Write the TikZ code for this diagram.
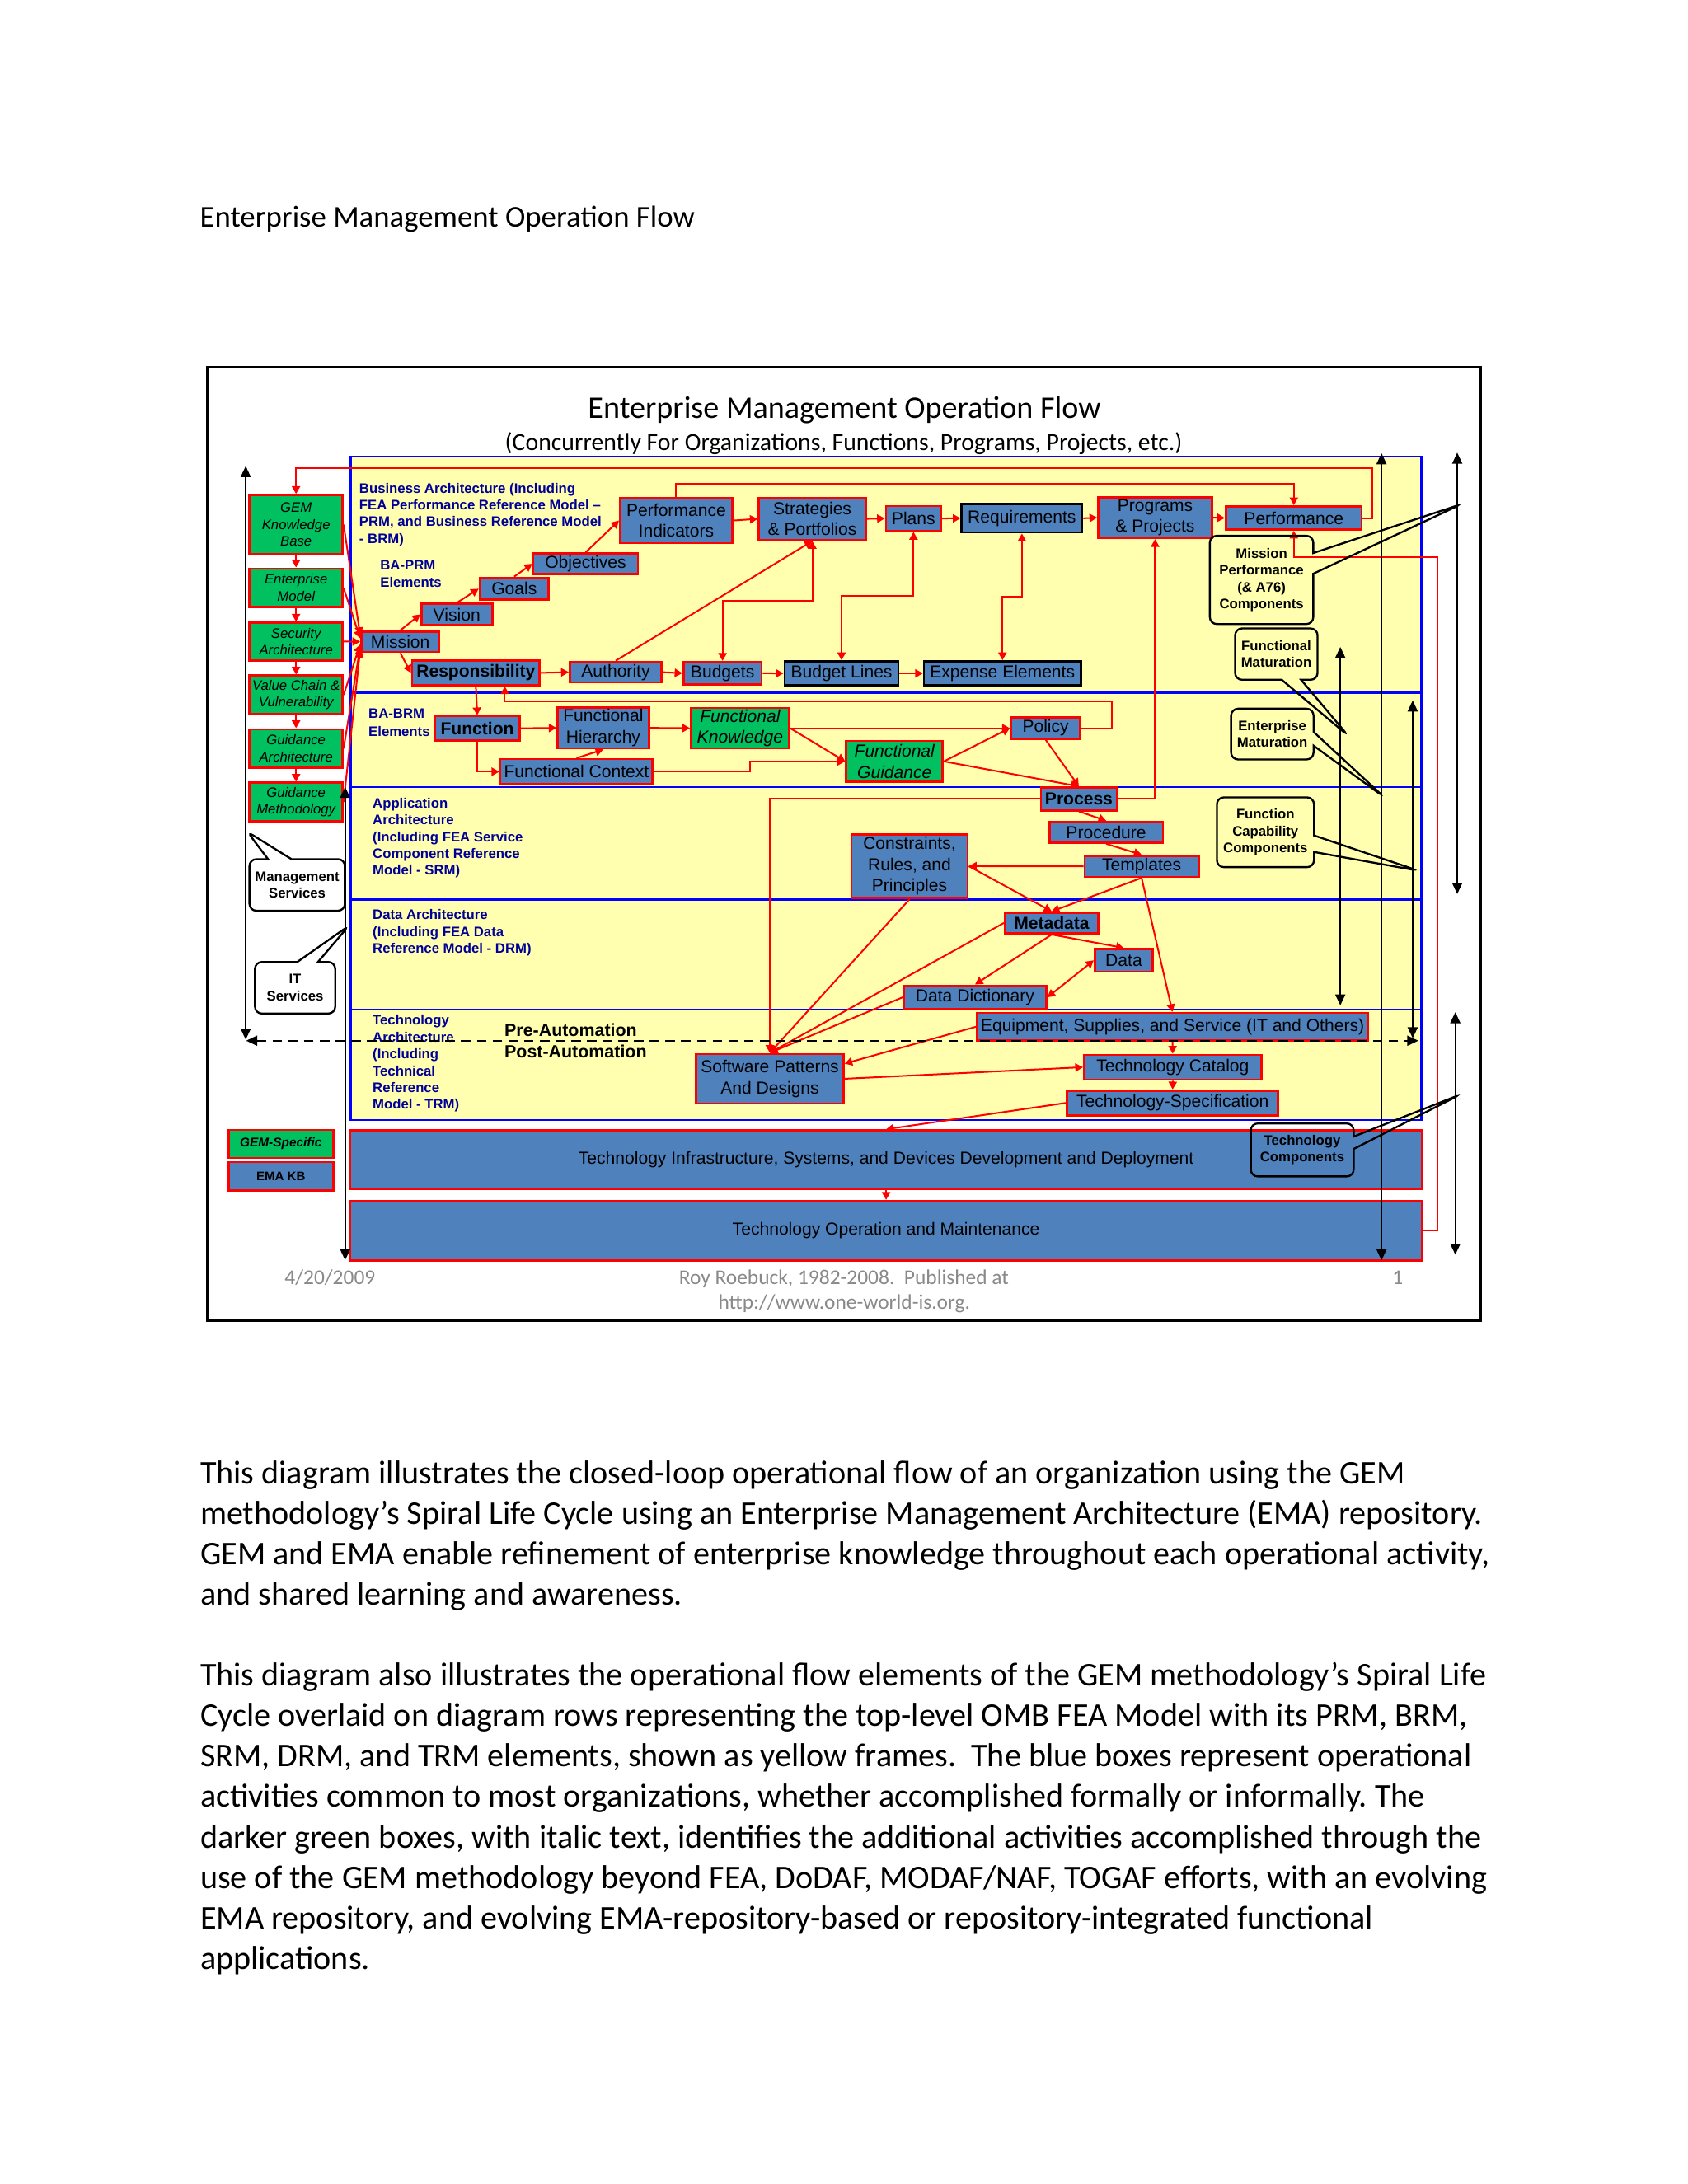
\documentclass[tikz,border=0pt]{standalone}
\usepackage{fontspec}
\setmainfont{Carlito}
\newfontfamily\arialfont{Liberation Sans}
\usetikzlibrary{arrows.meta, shapes.callouts}
\frenchspacing

\definecolor{emablue}{RGB}{79,129,189}
\definecolor{gemgreen}{RGB}{0,192,96}
\definecolor{bandyellow}{RGB}{255,255,175}
\definecolor{labelnavy}{RGB}{0,0,153}
\definecolor{footgray}{RGB}{137,137,137}

\tikzset{
  band/.style={draw=blue, fill=bandyellow, line width=0.7pt},
  ema/.style={draw=red, fill=emablue, line width=0.8pt, inner sep=0pt, align=center,
    font=\arialfont\fontsize{6.3}{7.6}\selectfont},
  emablack/.style={ema, draw=black},
  emabold/.style={ema, font=\arialfont\bfseries\fontsize{6.3}{7.6}\selectfont},
  gem/.style={draw=red, fill=gemgreen, line width=0.8pt, inner sep=0pt, align=center,
    font=\arialfont\itshape\fontsize{5}{6.2}\selectfont},
  gemknow/.style={gem, font=\arialfont\itshape\fontsize{6.3}{7.6}\selectfont},
  callbox/.style={rectangle callout, draw=black, line width=0.7pt, rounded corners=2.5pt,
    inner sep=0pt, align=center, font=\arialfont\bfseries\fontsize{5}{6.15}\selectfont},
  rowlabel/.style={anchor=north west, inner sep=0pt, align=left, text=labelnavy,
    font=\arialfont\bfseries\fontsize{5}{6.1}\selectfont},
  redflow/.style={draw=red, line width=0.6pt, >={Triangle[length=2.8pt,width=3pt]}, ->},
  redboth/.style={redflow, <->},
  spanarrow/.style={draw=black, line width=0.6pt, >={Triangle[length=4pt,width=3.6pt]}, <->},
  foot/.style={anchor=base, inner sep=0pt, text=footgray, font=\fontsize{7.6}{9.1}\selectfont}
}

\begin{document}
\begin{tikzpicture}[x=0.5pt, y=-0.5pt]
\useasboundingbox (0,0) rectangle (1224,1584);

% page heading
\node[anchor=base west, inner sep=0pt, font=\fontsize{11}{13.4}\selectfont] (pagehead) at (144.6,164.4) {Enterprise Management Operation Flow};

% slide frame and titles
\draw[line width=0.9pt] (150.5,266) rectangle (1073.7,957.6);
\node[anchor=base, inner sep=0pt, font=\fontsize{11.4}{13.9}\selectfont] (title) at (612.4,303.2) {Enterprise Management Operation Flow};
\node[anchor=base, inner sep=0pt, font=\fontsize{8.9}{10.9}\selectfont] (subtitle) at (611.8,326.5) {(Concurrently For Organizations, Functions, Programs, Projects, etc.)};

% FEA rows
\draw[band] (254.4,331.3) rectangle (1030.7,502.4);
\draw[band] (254.4,502.4) rectangle (1030.7,571);
\draw[band] (254.4,571) rectangle (1030.7,652.4);
\draw[band] (254.4,652.4) rectangle (1030.7,732.2);
\draw[band] (254.4,732.2) rectangle (1030.7,812.4);

\node[rowlabel] (balabel) at (260.2,349.9) {Business Architecture (Including\\FEA Performance Reference Model –\\PRM, and Business Reference Model\\- BRM)};
\node[rowlabel] (prmlabel) at (275.4,406.3) {BA-PRM\\Elements};
\node[rowlabel, font=\arialfont\bfseries\fontsize{5}{6.4}\selectfont] (brmlabel) at (266.9,513.8) {BA-BRM\\Elements};
\node[rowlabel] (srmlabel) at (269.9,578.3) {Application\\Architecture\\(Including FEA Service\\Component Reference\\Model - SRM)};
\node[rowlabel] (drmlabel) at (269.9,659.3) {Data Architecture\\(Including FEA Data\\Reference Model - DRM)};
\node[rowlabel] (trmlabel) at (269.9,735.8) {Technology\\Architecture\\(Including\\Technical\\Reference\\Model - TRM)};
\node[anchor=west, inner sep=0pt, align=left, font=\arialfont\bfseries\fontsize{6.4}{7.75}\selectfont] (automation) at (365.5,754.85) {Pre-Automation\\Post-Automation};

% GEM column
\node[gem, minimum width=33.7pt, minimum height=21.4pt] (gemkb) at (214.7,380.4) {GEM\\Knowledge\\Base};
\node[gem, minimum width=33.7pt, minimum height=14pt] (entmodel) at (214.7,426.4) {Enterprise\\Model};
\node[gem, minimum width=33.7pt, minimum height=13.7pt] (secarch) at (214.7,465.3) {Security\\Architecture};
\node[gem, minimum width=33.7pt, minimum height=14pt] (valchain) at (214.7,504) {Value Chain \&\\Vulnerability};
\node[gem, minimum width=33.7pt, minimum height=14pt] (guidarch) at (214.7,542.9) {Guidance\\Architecture};
\node[gem, minimum width=33.7pt, minimum height=14pt] (guidmeth) at (214.7,581.7) {Guidance\\Methodology};

% legend
\node[gem, font=\arialfont\bfseries\itshape\fontsize{4.6}{5.5}\selectfont, minimum width=37.9pt, minimum height=10.2pt] (gemspec) at (203.7,829.6) {GEM-Specific};
\node[ema, font=\arialfont\bfseries\fontsize{4.5}{5.5}\selectfont, minimum width=37.9pt, minimum height=10.4pt] (emakb) at (203.7,853.2) {EMA KB};

% BA-PRM
\node[ema, minimum width=28.3pt, minimum height=7.4pt] (mission) at (290.3,465.4) {Mission};
\node[ema, minimum width=25.7pt, minimum height=7.6pt] (vision) at (331.3,445.6) {Vision};
\node[ema, minimum width=25pt, minimum height=8pt] (goals) at (372.9,427) {Goals};
\node[ema, minimum width=37.9pt, minimum height=7.5pt] (objectives) at (424.7,408.9) {Objectives};
\node[ema, minimum width=40.7pt, minimum height=16.5pt] (perfind) at (490.4,377.5) {Performance\\Indicators};
\node[ema, minimum width=38.8pt, minimum height=15.3pt] (strat) at (589.1,376.3) {Strategies\\\& Portfolios};
\node[ema, minimum width=20pt, minimum height=9pt] (plans) at (662.5,376) {Plans};
\node[emablack, minimum width=43.7pt, minimum height=10.3pt] (reqs) at (741.1,375.9) {Requirements};
\node[ema, minimum width=41.2pt, minimum height=14.8pt] (progs) at (837.7,375.4) {Programs\\\& Projects};
\node[ema, minimum width=49.2pt, minimum height=8.5pt] (perf) at (938.3,375.7) {Performance};
\node[emabold, minimum width=46.3pt, minimum height=9pt] (resp) at (345.1,488) {Responsibility};
\node[ema, minimum width=33.2pt, minimum height=7.5pt] (authority) at (446.5,487.5) {Authority};
\node[ema, minimum width=28.3pt, minimum height=8.2pt] (budgets) at (524,488.3) {Budgets};
\node[emablack, minimum width=41.3pt, minimum height=8.8pt] (budlines) at (610.3,488.4) {Budget Lines};
\node[emablack, minimum width=56.9pt, minimum height=8.8pt] (expense) at (727,488.4) {Expense Elements};

% BA-BRM
\node[emabold, minimum width=30.8pt, minimum height=8.7pt] (function) at (346.1,528.2) {Function};
\node[ema, minimum width=33.1pt, minimum height=14.9pt] (funchier) at (437.5,527.9) {Functional\\Hierarchy};
\node[gemknow, minimum width=35.5pt, minimum height=14.7pt] (funcknow) at (536.7,528.1) {Functional\\Knowledge};
\node[ema, minimum width=25.2pt, minimum height=7.6pt] (policy) at (758.3,528.1) {Policy};
\node[gemknow, minimum width=35pt, minimum height=14.9pt] (funcguid) at (648.7,552.2) {Functional\\Guidance};
\node[ema, minimum width=55.2pt, minimum height=9.1pt] (funccontext) at (418.1,559.7) {Functional Context};

% application and data
\node[emabold, minimum width=27.5pt, minimum height=8.3pt] (process) at (782.4,579.4) {Process};
\node[ema, minimum width=41.1pt, minimum height=7.6pt] (procedure) at (802.2,603.6) {Procedure};
\node[ema, minimum width=41.3pt, minimum height=7.6pt] (templates) at (827.9,628.3) {Templates};
\node[ema, minimum width=42.2pt, minimum height=23.2pt] (constraints) at (659.6,628.2) {Constraints,\\Rules, and\\Principles};
\node[emabold, minimum width=33.9pt, minimum height=7.6pt] (metadata) at (762.7,669.4) {Metadata};
\node[ema, minimum width=21pt, minimum height=8.2pt] (data) at (815,696.5) {Data};
\node[ema, minimum width=51.7pt, minimum height=8.5pt] (datadict) at (707.1,723.3) {Data Dictionary};

% technology
\node[ema, minimum width=141.8pt, minimum height=10pt] (equip) at (850.3,744.7) {Equipment, Supplies, and Service (IT and Others)};
\node[ema, minimum width=53.4pt, minimum height=18pt] (softpat) at (558.3,782.4) {Software Patterns\\And Designs};
\node[ema, minimum width=64.3pt, minimum height=9pt] (techcat) at (850.5,774) {Technology Catalog};
\node[ema, minimum width=76.5pt, minimum height=9pt] (techspec) at (850.4,799.9) {Technology-Specification};
\node[ema, minimum width=388.7pt, minimum height=21.2pt] (infra) at (642.6,841) {Technology Infrastructure, Systems, and Devices Development and Deployment};
\node[ema, minimum width=388.7pt, minimum height=21.6pt] (techop) at (642.6,892.6) {Technology Operation and Maintenance};

% GEM column flow
\draw[redflow] (gemkb.south) -- (entmodel.north);
\draw[redflow] (entmodel.south) -- (secarch.north);
\draw[redflow] (secarch.south) -- (valchain.north);
\draw[redflow] (valchain.south) -- (guidarch.north);
\draw[redflow] (guidarch.south) -- (guidmeth.north);
\draw[redflow] (gemkb.east) -- ([yshift=2.4pt]mission.west);
\draw[redflow] (entmodel.east) -- ([yshift=1.2pt]mission.west);
\draw[redflow] (secarch.east) -- (mission.west);
\draw[redflow] (valchain.east) -- ([yshift=-1pt]mission.west);
\draw[redflow] (guidarch.east) -- ([yshift=-2pt]mission.west);
\draw[redflow] (guidmeth.east) -- ([yshift=-3pt]mission.west);

% BA-PRM flow
\draw[redflow] (mission.north) -- (vision.west);
\draw[redflow] (vision.north) -- (goals.west);
\draw[redflow] (goals.north) -- (objectives.west);
\draw[redflow] (objectives.north) -- (perfind.west);
\draw[redflow] (perfind.east) -- (strat.west);
\draw[redflow] (strat.east) -- (plans.west);
\draw[redflow] (plans.east) -- (reqs.west);
\draw[redflow] (reqs.east) -- (progs.west);
\draw[redflow] (progs.east) -- (perf.west);
\draw[redflow] (perf.east) -- (995.1,375.7) -- (995.1,339.7) -| (gemkb.north);
\draw[redflow] (perfind.north) |- (938.3,351) -- (perf.north);
\draw[redflow] (mission.south) -- (resp.west);
\draw[redflow] (resp.east) -- (authority.west);
\draw[redflow] (authority.east) -- (budgets.west);
\draw[redflow] (budgets.east) -- (budlines.west);
\draw[redflow] (budlines.east) -- (expense.west);
\draw[redflow] (authority.north) -- (strat.south);
\draw[redboth] (strat.south) -- (589.1,435.9) -| (budgets.north);
\draw[redboth] (plans.south) -- (662.5,431.9) -| (budlines.north);
\draw[redboth] (reqs.south) -- (741.1,433) -| (expense.north);

% BA-BRM flow
\draw[redflow] (resp.south) -- (function.north);
\draw[redflow] (function.east) -- (funchier.west);
\draw[redflow] (function.south) |- (funccontext.west);
\draw[redflow] (funccontext.north) -- (funchier.south);
\draw[redflow] (funchier.east) -- (funcknow.west);
\draw[redflow] (funcknow.east) -- (policy.west);
\draw[redflow] (funcknow.east) -- (funcguid.west);
\draw[redflow] (funccontext.east) -| (543.7,552.2) -- (funcguid.west);
\draw[redflow] (funcguid.east) -- (policy.west);
\draw[redflow] (funcguid.east) -- (process.north);
\draw[redflow] (policy.south) -- (process.north);
\draw[redflow] (policy.east) -| (806.4,508.4) -| ([xshift=10.5pt]resp.south);

% application, data and technology flow
\draw[redflow] (process.east) -| (progs.south);
\draw[redflow] (process.west) -| (softpat.north);
\draw[redflow] (process.south) -- (procedure.north);
\draw[redflow] (procedure.south) -- (templates.north);
\draw[redflow] (templates.west) -- (constraints.east);
\draw[redflow] (templates.south) -- (metadata.north);
\draw[redflow] (constraints.east) -- (metadata.north);
\draw[redflow] (templates.south) -- (equip.north);
\draw[redflow] (constraints.south) -- (softpat.north);
\draw[redflow] (metadata.west) -- (softpat.north);
\draw[redflow] (metadata.south) -- (data.north);
\draw[redflow] (metadata.south) -- (datadict.north);
\draw[redboth] (data.west) -- (datadict.east);
\draw[redflow] (datadict.west) -- (softpat.north);
\draw[redflow] (equip.west) -- ([yshift=5.5pt]softpat.east);
\draw[redflow] (equip.south) -- (techcat.north);
\draw[redflow] (softpat.east) -- (techcat.west);
\draw[redflow] (techcat.south) -- (techspec.north);
\draw[redflow] (techspec.west) -- (infra.north);
\draw[redflow] (infra.south) -- (techop.north);
\draw[redflow] (techop.east) -| (1042.4,403.8) -| (perf.south);

% callouts
\node[callbox, minimum width=37.5pt, minimum height=32pt, callout absolute pointer={(1059.9,365.6)}, callout pointer width=7.5pt] (missperf) at (914.9,420.6) {Mission\\Performance\\(\& A76)\\Components};
\node[callbox, minimum width=29.9pt, minimum height=18.6pt, callout absolute pointer={(977.6,533.5)}, callout pointer width=7pt] (funcmat) at (925.6,474.4) {Functional\\Maturation};
\node[callbox, minimum width=29.9pt, minimum height=18.4pt, callout absolute pointer={(1003.3,577.7)}, callout pointer width=5pt] (entmat) at (922.7,532.4) {Enterprise\\Maturation};
\node[callbox, minimum width=35.2pt, minimum height=25.3pt, callout absolute pointer={(1028.6,631.5)}, callout pointer width=6pt] (funccap) at (917.7,603.6) {Function\\Capability\\Components};
\node[callbox, minimum width=37.3pt, minimum height=19.2pt, callout absolute pointer={(1058.9,793.9)}, callout pointer width=4.5pt] (techcomp) at (944.4,834) {Technology\\Components};
\node[callbox, minimum width=34.6pt, minimum height=18.7pt, callout absolute pointer={(179.3,603.2)}, callout pointer width=8.5pt] (mgmtserv) at (215.5,641.8) {Management\\Services};
\node[callbox, minimum width=29.1pt, minimum height=18.7pt, callout absolute pointer={(253,671.4)}, callout pointer width=7.5pt] (itserv) at (214,716.4) {IT\\Services};

% life cycle spans
\foreach \s/\x/\ya/\yb in {mgmt/178.2/338/754, it/250.3/570.7/914, fmat/972/469.2/729.2, mperf/1001.9/328.7/914.1, emat/1024.5/508/753, prm/1056.8/328.3/648.4, tcomp/1055.4/734.1/910}
{
  \coordinate (\s-top) at (\x,\ya);
  \coordinate (\s-bot) at (\x,\yb);
  \draw[spanarrow] (\s-top) -- (\s-bot);
}
\coordinate (autoleft) at (178.5,754.8);
\coordinate (autoright) at (1028.6,754.8);
\draw[spanarrow, dash pattern=on 3.5pt off 2.2pt] (autoleft) -- (autoright);

% footer
\node[foot] (date) at (239.3,931.3) {4/20/2009};
\node[foot] (credit) at (612,931.3) {Roy Roebuck, 1982-2008.\ \ Published at};
\node[foot] (url) at (612.3,949.2) {http://www.one-world-is.org.};
\node[foot] (pageno) at (1013.6,931.3) {1};

% description
\foreach \ln [count=\i from 0] in {
  {This diagram illustrates the closed-loop operational flow of an organization using the GEM},
  {methodology’s Spiral Life Cycle using an Enterprise Management Architecture (EMA) repository.},
  {GEM and EMA enable refinement of enterprise knowledge throughout each operational activity,},
  {and shared learning and awareness.}}
  \node[anchor=base west, inner sep=0pt, font=\fontsize{12}{14.7}\selectfont] (desc\i) at (144.9,{1076+29.35*\i}) {\ln};
\foreach \ln [count=\i from 5] in {
  {This diagram also illustrates the operational flow elements of the GEM methodology’s Spiral Life},
  {Cycle overlaid on diagram rows representing the top-level OMB FEA Model with its PRM, BRM,},
  {SRM, DRM, and TRM elements, shown as yellow frames.\ \ The blue boxes represent operational},
  {activities common to most organizations, whether accomplished formally or informally. The},
  {darker green boxes, with italic text, identifies the additional activities accomplished through the},
  {use of the GEM methodology beyond FEA, DoDAF, MODAF/NAF, TOGAF efforts, with an evolving},
  {EMA repository, and evolving EMA-repository-based or repository-integrated functional},
  {applications.}}
  \node[anchor=base west, inner sep=0pt, font=\fontsize{12}{14.7}\selectfont] (desc\i) at (144.9,{1076+29.35*\i}) {\ln};
\end{tikzpicture}
\end{document}
